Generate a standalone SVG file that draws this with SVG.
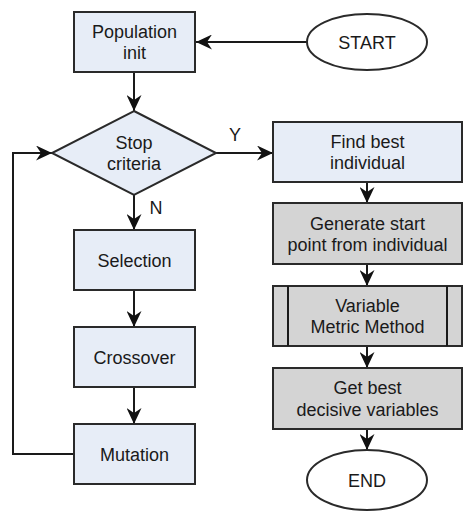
<svg xmlns="http://www.w3.org/2000/svg" width="474" height="523" viewBox="0 0 474 523">
<defs>
<marker id="arr" markerWidth="17" markerHeight="15" refX="16" refY="7.5" orient="auto" markerUnits="userSpaceOnUse">
<path d="M0,0 L16,7.5 L0,15 L5,7.5 Z" fill="#111"/>
</marker>
<style>
.blue{fill:#e7edf7;stroke:#2a2a2a;stroke-width:2}
.gray{fill:#d4d4d4;stroke:#2a2a2a;stroke-width:2}
.oval{fill:#ffffff;stroke:#2a2a2a;stroke-width:2}
.line{fill:none;stroke:#1a1a1a;stroke-width:2}
text{font-family:"Liberation Sans",Arial,sans-serif;font-size:18px;fill:#1a1a1a;text-anchor:middle}
</style>
</defs>
<rect width="474" height="523" fill="#ffffff"/>
<g id="connectors">
<line class="line" x1="307" y1="42" x2="196" y2="42" marker-end="url(#arr)"/>
<line class="line" x1="134" y1="72" x2="134" y2="111" marker-end="url(#arr)"/>
<line class="line" x1="216" y1="153" x2="273" y2="153" marker-end="url(#arr)"/>
<line class="line" x1="134" y1="195" x2="134" y2="230" marker-end="url(#arr)"/>
<line class="line" x1="134" y1="290" x2="134" y2="327" marker-end="url(#arr)"/>
<line class="line" x1="134" y1="387" x2="134" y2="424" marker-end="url(#arr)"/>
<polyline class="line" points="74,454 13,454 13,153 52,153" marker-end="url(#arr)"/>
<line class="line" x1="367" y1="182" x2="367" y2="203" marker-end="url(#arr)"/>
<line class="line" x1="367" y1="264" x2="367" y2="286" marker-end="url(#arr)"/>
<line class="line" x1="367" y1="346" x2="367" y2="368" marker-end="url(#arr)"/>
<line class="line" x1="367" y1="429" x2="367" y2="450" marker-end="url(#arr)"/>
<text x="235" y="141">Y</text>
<text x="156" y="214">N</text>
</g>
<g id="start">
<ellipse class="oval" cx="367" cy="42" rx="60" ry="28"/>
<text x="367" y="49">START</text>
</g>
<g id="population-init">
<rect class="blue" x="74" y="12" width="121" height="60"/>
<text x="134.5" y="38">Population</text>
<text x="134.5" y="59">init</text>
</g>
<g id="stop-criteria">
<polygon class="blue" points="134,111 216,153 134,195 52,153"/>
<text x="134" y="149">Stop</text>
<text x="134" y="170">criteria</text>
</g>
<g id="selection">
<rect class="blue" x="74" y="230" width="121" height="60"/>
<text x="134.5" y="267">Selection</text>
</g>
<g id="crossover">
<rect class="blue" x="74" y="327" width="121" height="60"/>
<text x="134.5" y="364">Crossover</text>
</g>
<g id="mutation">
<rect class="blue" x="74" y="424" width="121" height="60"/>
<text x="134.5" y="461">Mutation</text>
</g>
<g id="find-best">
<rect class="blue" x="273" y="122" width="189" height="60"/>
<text x="367.5" y="148">Find best</text>
<text x="367.5" y="169">individual</text>
</g>
<g id="generate-start">
<rect class="gray" x="273" y="203" width="189" height="61"/>
<text x="367.5" y="230">Generate start</text>
<text x="367.5" y="251">point from individual</text>
</g>
<g id="variable-metric">
<rect class="gray" x="273" y="286" width="189" height="60"/>
<line class="line" x1="288" y1="286" x2="288" y2="346"/>
<line class="line" x1="447" y1="286" x2="447" y2="346"/>
<text x="367.5" y="312">Variable</text>
<text x="367.5" y="333">Metric Method</text>
</g>
<g id="get-best">
<rect class="gray" x="273" y="368" width="189" height="61"/>
<text x="367.5" y="394">Get best</text>
<text x="367.5" y="416">decisive variables</text>
</g>
<g id="end">
<ellipse class="oval" cx="367" cy="480" rx="60" ry="30"/>
<text x="367" y="487">END</text>
</g>
</svg>
